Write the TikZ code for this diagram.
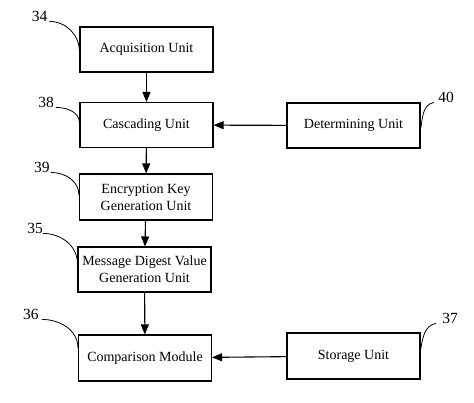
\documentclass[tikz,border=0pt]{standalone}
\usepackage{fontspec}
\setmainfont{Liberation Serif}
\usetikzlibrary{arrows.meta}

\begin{document}
\begin{tikzpicture}[x=1pt,y=1pt,
  unit/.style={draw,line width=1.1pt,minimum width=133pt,minimum height=45pt,
    align=center,font=\fontsize{14}{17}\selectfont},
  tag/.style={inner sep=0pt,font=\fontsize{15.5}{15.5}\selectfont},
  flow/.style={line width=1.1pt,-{Triangle[length=10pt,width=8pt]}},
  lead/.style={line width=0.8pt}]
\useasboundingbox (0,0) rectangle (474,402);
\node[unit] (acq) at (146.5,352.5) {Acquisition Unit};
\node[unit] (casc) at (146.5,277) {Cascading Unit};
\node[unit,minimum height=46pt] (enc) at (146,205) {Encryption Key\\Generation Unit};
\node[unit] (msg) at (144.5,132.5) {Message Digest Value\\Generation Unit};
\node[unit,minimum height=46pt] (cmp) at (145,44) {Comparison Module};
\node[unit] (det) at (353.5,276.5) {Determining Unit};
\node[unit,minimum height=46pt] (sto) at (353.5,46) {Storage Unit};
\node[tag] (l34) at (39.5,386) {34};
\node[tag] (l38) at (46,300) {38};
\node[tag] (l39) at (42,235) {39};
\node[tag] (l35) at (35,174) {35};
\node[tag] (l36) at (31,88) {36};
\node[tag] (l40) at (446,305) {40};
\node[tag] (l37) at (450,84) {37};
\draw[flow] (acq) -- (casc);
\draw[flow] (casc) -- (enc);
\draw[flow] (enc) -- (msg);
\draw[flow] (msg) -- (cmp);
\draw[flow] (det) -- (casc);
\draw[flow] (sto) -- (cmp);
\draw[lead] ([xshift=2pt]l34.south east) to[out=0,in=90] ([yshift=-2pt]acq.west);
\draw[lead] ([xshift=2pt]l38.south east) to[out=0,in=90] ([yshift=2pt]casc.west);
\draw[lead] ([xshift=1pt]l39.south east) to[out=0,in=90] ([yshift=2pt]enc.west);
\draw[lead] (l35.south east) to[out=0,in=90] ([yshift=6pt]msg.west);
\draw[lead] ([xshift=3pt]l36.south east) to[out=0,in=90] ([yshift=10pt]cmp.west);
\draw[lead] ([yshift=-4pt]det.east) to[out=80,in=190] ([xshift=-4pt]l40.south west);
\draw[lead] ([yshift=6pt]sto.east) to[out=80,in=190] ([xshift=-6pt]l37.south west);
\end{tikzpicture}
\end{document}
